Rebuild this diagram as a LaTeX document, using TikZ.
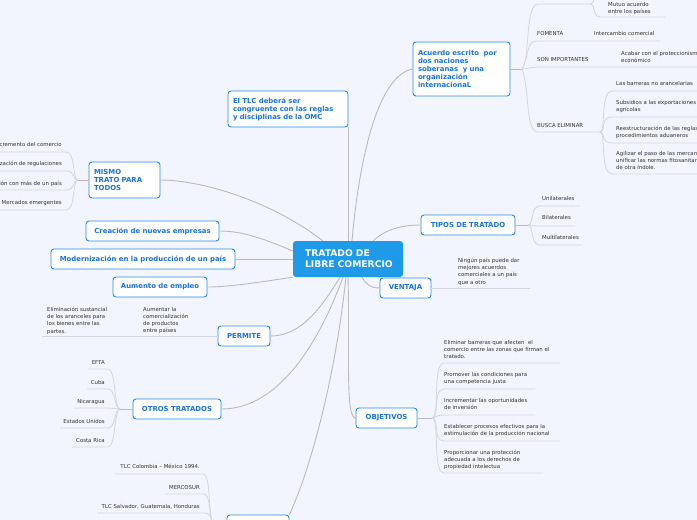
\documentclass[tikz,border=0pt]{standalone}
\usepackage{fontspec}
\setmainfont{DejaVu Sans}
\definecolor{bg}{HTML}{F2F5FD}
\definecolor{nb}{HTML}{2A8AE6}
\definecolor{nt}{HTML}{1A73D9}
\definecolor{cf}{HTML}{1E9AE8}
\definecolor{ln}{HTML}{BBBBBB}
\definecolor{lf}{HTML}{D3D7DF}
\definecolor{tx}{HTML}{333333}
\tikzset{
  topic/.style={draw=nb,line width=0.9pt,fill=white,rounded corners=3pt,text=nt,font=\fontsize{6.9}{8}\selectfont\bfseries,inner sep=0pt,align=left},
  central/.style={fill=cf,rounded corners=3pt,text=white,font=\fontsize{9.2}{11}\selectfont\bfseries,inner sep=0pt,align=left},
  conn/.style={draw=ln,line width=0.9pt},
  lline/.style={draw=lf,line width=0.8pt},
  lt/.style={text=tx,font=\fontsize{5.4}{7.2}\selectfont,inner sep=0pt,align=left,anchor=north west},
  ltr/.style={lt,anchor=north east,align=right}
}
\begin{document}
\begin{tikzpicture}[x=1pt,y=-1pt]
\fill[bg] (0,0) rectangle (697,520);
\useasboundingbox (0,0) rectangle (697,520);
\clip (0,0) rectangle (697,520);
% topic boxes
\node[central,minimum width=110pt,minimum height=36pt,text width=92pt] (c) at (348,259) {\hspace*{3pt}TRATADO DE\\\hspace*{3pt}LIBRE COMERCIO};
\node[topic,minimum width=97pt,minimum height=54pt,text width=87pt] (acu) at (461.5,69) {Acuerdo escrito\ \ por\\dos naciones\\soberanas\ \ y una\\organización\\internacionaL};
\node[topic,minimum width=120pt,minimum height=36pt,text width=110pt] (tlc) at (288,109) {El TLC deberá ser\\congruente con las reglas\\y disciplinas de la OMC};
\node[topic,minimum width=71pt,minimum height=36pt,text width=61pt] (mis) at (124.5,180) {MISMO\\TRATO PARA\\TODOS};
\node[topic,minimum width=133pt,minimum height=20pt,align=center] (cre) at (152.5,231) {Creación de nuevas empresas};
\node[topic,minimum width=184pt,minimum height=20pt,align=center] (mod) at (143,259) {Modernización en la producción de un país};
\node[topic,minimum width=94pt,minimum height=20pt,align=center] (aum) at (160,287) {Aumento de empleo};
\node[topic,minimum width=52pt,minimum height=20pt,align=center] (per) at (244,336) {PERMITE};
\node[topic,minimum width=88pt,minimum height=20pt,align=center] (otr) at (177,409) {OTROS TRATADOS};
\node[topic,minimum width=62pt,minimum height=20pt,align=center] (bot) at (258,525) {};
\node[topic,minimum width=94pt,minimum height=20pt,align=center] (tip) at (468,225) {TIPOS DE TRATADO};
\node[topic,minimum width=51pt,minimum height=20pt,align=center] (ven) at (405.5,288) {VENTAJA};
\node[topic,minimum width=61pt,minimum height=20pt,align=center] (obj) at (386.5,418) {OBJETIVOS};
% main connectors
\draw[conn] (c.north) ++(4,0) coordinate (c1) .. controls (360,150) and (380,75) .. (acu.west);
\draw[conn] (c.north) -- (tlc.south east -| c.north);
\draw[conn] (c.north west) ++(30,0) .. controls (270,200) and (200,180) .. (mis.east);
\draw[conn] (c.west) ++(0,-8) .. controls (260,237) and (240,231) .. (cre.east);
\draw[conn] (c.west) -- (mod.east);
\draw[conn] (c.south west) .. controls (260,282) and (230,287) .. (aum.east);
\draw[conn] (c.south) ++(-8,0) .. controls (320,310) and (300,336) .. (per.east);
\draw[conn] (c.south) ++(-5,0) .. controls (320,340) and (280,409) .. (otr.east);
\draw[conn] (c.south) ++(-2,0) .. controls (335,380) and (310,470) .. (bot.north east);
\draw[conn] (c.south) .. controls (350,350) and (345,418) .. (obj.west);
\draw[conn] (c.south) ++(14,0) .. controls (366,284) and (370,288) .. (ven.west);
\draw[conn] (c.north east) ++(-30,0) .. controls (385,230) and (400,225) .. (tip.west);
% Acuerdo branches
\coordinate (af) at (522,69);
\draw[conn] (acu.east) -- (af);
\draw[lline] (af) .. controls (530,60) and (525,4) .. (538,4) -- (590,4);
\draw[lline] (af) .. controls (530,55) and (525,41) .. (538,41) -- (660,41);
\draw[lline] (af) .. controls (528,69) and (530,67) .. (540,67) -- (697,67);
\draw[lline] (af) .. controls (530,90) and (525,132) .. (538,132) -- (600,132);
\node[lt] (a0) at (537,-6) {SE REGULA POR};
\draw[lline] (590,4) .. controls (596,4) and (592,17) .. (600,17) -- (665,17);
\draw[lline] (590,4) .. controls (596,4) and (592,-8) .. (600,-8);
\node[lt] (a01) at (608,2) {Mutuo acuerdo\\entre los países};
\node[lt] (a1) at (537,31) {FOMENTA};
\node[lt] (a11) at (594,31) {Intercambio comercial};
\node[lt] (a2) at (537,57) {SON IMPORTANTES};
\node[lt] (a21) at (621,51) {Acabar con el proteccionismo\\económico};
\node[lt] (a3) at (537,123) {BUSCA ELIMINAR};
\coordinate (bf) at (600,132);
\draw[lline] (bf) .. controls (606,132) and (600,91) .. (612,91) -- (697,91);
\draw[lline] (bf) .. controls (606,132) and (600,117) .. (612,117) -- (697,117);
\draw[lline] (bf) .. controls (606,132) and (600,143) .. (612,143) -- (697,143);
\draw[lline] (bf) .. controls (606,132) and (600,174) .. (612,174) -- (697,174);
\node[lt] (b1) at (616,81) {Las barreras no arancelarias};
\node[lt] (b2) at (616,100) {Subsidios a las exportaciones\\agrícolas};
\node[lt] (b3) at (616,126) {Reestructuración de las reglas y\\procedimientos aduaneros};
\node[lt] (b4) at (616,151) {Agilizar el paso de las mercancías y\\unificar las normas fitosanitarias y\\de otra índole.};
% TIPOS
\coordinate (tf) at (528,225);
\draw[conn] (tip.east) -- (tf);
\draw[lline] (tf) .. controls (534,225) and (530,206) .. (540,206) -- (580,206);
\draw[lline] (tf) .. controls (534,225) and (530,226) .. (540,226) -- (575,226);
\draw[lline] (tf) .. controls (534,225) and (530,245) .. (540,245) -- (582,245);
\node[lt] (t1) at (542,196) {Unilaterales};
\node[lt] (t2) at (542,215) {Bilaterales};
\node[lt] (t3) at (542,235) {Multilaterales};
% VENTAJA
\draw[lline] (ven.east) -- (530,288);
\node[lt] (v1) at (458,258) {Ningún país puede dar\\mejores acuerdos\\comerciales a un país\\que a otro};
% OBJETIVOS
\coordinate (of) at (432,418);
\draw[conn] (obj.east) -- (of);
\draw[lline] (of) .. controls (440,418) and (432,363) .. (444,363) -- (560,363);
\draw[lline] (of) .. controls (440,418) and (432,389) .. (444,389) -- (535,389);
\draw[lline] (of) .. controls (438,418) and (434,415) .. (444,415) -- (535,415);
\draw[lline] (of) .. controls (440,418) and (432,441) .. (444,441) -- (560,441);
\draw[lline] (of) .. controls (440,418) and (432,473) .. (444,473) -- (543,473);
\node[lt] (o1) at (444,340) {Eliminar barreras que afecten\ \ el\\comercio entre las zonas que firman el\\tratado.};
\node[lt] (o2) at (444,372) {Promover las condiciones para\\una competencia justa};
\node[lt] (o3) at (444,398) {Incrementar las oportunidades\\de inversión};
\node[lt] (o4) at (444,424) {Establecer procesos efectivos para la\\estimulación de la producción nacional};
\node[lt] (o5) at (444,450) {Proporcionar una protección\\adecuada a los derechos de\\propiedad intelectua};
% MISMO
\coordinate (mf) at (78,180);
\draw[conn] (mis.west) -- (mf);
\draw[lline] (mf) .. controls (72,180) and (76,152) .. (66,152) -- (0,152);
\draw[lline] (mf) .. controls (72,180) and (76,171) .. (66,171) -- (0,171);
\draw[lline] (mf) .. controls (72,180) and (76,190) .. (66,190) -- (0,190);
\draw[lline] (mf) .. controls (72,180) and (76,210) .. (66,210) -- (0,210);
\node[ltr] (m1) at (62,142) {Incremento del comercio};
\node[ltr] (m2) at (62,161) {Armonización de regulaciones};
\node[ltr] (m3) at (62,181) {Negociación con más de un país};
\node[ltr] (m4) at (62,200) {Mercados emergentes};
% PERMITE
\draw[lline] (per.west) -- (42,336);
\node[lt] (p1) at (47,307) {Eliminación sustancial\\de los aranceles para\\los bienes entre las\\partes.};
\node[lt] (p2) at (143,307) {Aumentar la\\comercialización\\de productos\\entre países};
% OTROS
\coordinate (otf) at (120,409);
\draw[conn] (otr.west) -- (otf);
\draw[lline] (otf) .. controls (114,409) and (116,369) .. (108,369) -- (88,369);
\draw[lline] (otf) .. controls (114,409) and (116,389) .. (108,389) -- (87,389);
\draw[lline] (otf) .. controls (114,409) and (114,408) .. (108,408) -- (74,408);
\draw[lline] (otf) .. controls (114,409) and (116,428) .. (108,428) -- (60,428);
\draw[lline] (otf) .. controls (114,409) and (116,447) .. (108,447) -- (72,447);
\node[ltr] (q1) at (105,360) {EFTA};
\node[ltr] (q2) at (105,380) {Cuba};
\node[ltr] (q3) at (105,399) {Nicaragua};
\node[ltr] (q4) at (105,419) {Estados Unidos};
\node[ltr] (q5) at (105,438) {Costa Rica};
% bottom
\coordinate (bof) at (212,522);
\draw[lline] (bof) .. controls (208,500) and (210,474) .. (203,474) -- (115,474);
\draw[lline] (bof) .. controls (208,505) and (210,494) .. (203,494) -- (165,494);
\draw[lline] (bof) .. controls (210,515) and (210,513) .. (203,513) -- (97,513);
\node[ltr] (r1) at (200,464) {TLC Colombia – México 1994.};
\node[ltr] (r2) at (200,485) {MERCOSUR};
\node[ltr] (r3) at (200,504) {TLC Salvador, Guatemala, Honduras};
\end{tikzpicture}
\end{document}
